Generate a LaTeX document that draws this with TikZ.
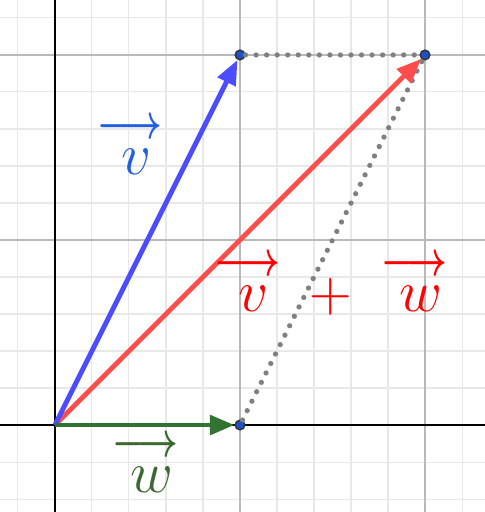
\documentclass[tikz,border=0pt]{standalone}
\usepackage{amsmath}
\usepackage{graphicx}
\usepackage{tikz}
\usetikzlibrary{arrows.meta}

\definecolor{vblue}{RGB}{77,77,255}
\definecolor{sumred}{RGB}{255,77,77}
\definecolor{wgreen}{RGB}{50,115,50}
\definecolor{ptblue}{RGB}{30,80,200}
\definecolor{labblue}{RGB}{35,95,225}
\definecolor{labred}{RGB}{255,0,0}
\definecolor{labgreen}{RGB}{60,105,50}

\newcommand{\geovec}[1]{\overset{\raisebox{-0.5pt}{\scalebox{0.72}[1]{$\scriptstyle\boldsymbol{\longrightarrow}$}}}{\mkern4mu#1}}

\begin{document}
\begin{tikzpicture}[x=3.7cm, y=3.7cm,
    minorgrid/.style={gray!18, line width=0.6pt},
    majorgrid/.style={gray!55, line width=0.8pt},
    vecline/.style={line width=2.8pt, -{Triangle[length=14pt, width=11pt]}},
    helper/.style={gray, line width=3pt, dash pattern=on 0pt off 6pt, line cap=round},
    pt/.style={draw=black!80, circle, fill=ptblue, inner sep=0pt, minimum size=5.5pt, line width=0.8pt},
    lbl/.style={font=\fontsize{24.88}{24.88}\selectfont, scale=1.35}]
        \useasboundingbox (-0.297,-0.470) rectangle (2.324,2.297);
        \draw[minorgrid, step=0.2] (-0.4,-0.6) grid (2.4,2.4);
        \draw[majorgrid, step=1] (-0.4,-0.6) grid (2.4,2.4);
        \draw[black, line width=1pt] (-0.4,0) -- (2.4,0);
        \draw[black, line width=1pt] (0,-0.6) -- (0,2.4);
        \coordinate (O) at (0,0);
        \node[pt] (ptv) at (1,2) {};
        \node[pt] (ptw) at (1,0) {};
        \node[pt] (ptvw) at (2,2) {};
        \draw[helper] (ptv) -- (ptvw);
        \draw[helper] (ptw) -- (ptvw);
        \draw[vecline, sumred] (O) -- (ptvw);
        \draw[vecline, vblue] (O) -- (ptv);
        \draw[vecline, wgreen] (O) -- (ptw);
        \node[lbl, text=labblue] (labv) at (0.405,1.52) {$\geovec{v}$};
        \node[lbl, text=labred] (labvw) at (1.49,0.77) {$\geovec{v}\;+\;\geovec{w}$};
        \node[lbl, text=labgreen] (labw) at (0.49,-0.2) {$\geovec{w}$};
    \end{tikzpicture}
\end{document}
